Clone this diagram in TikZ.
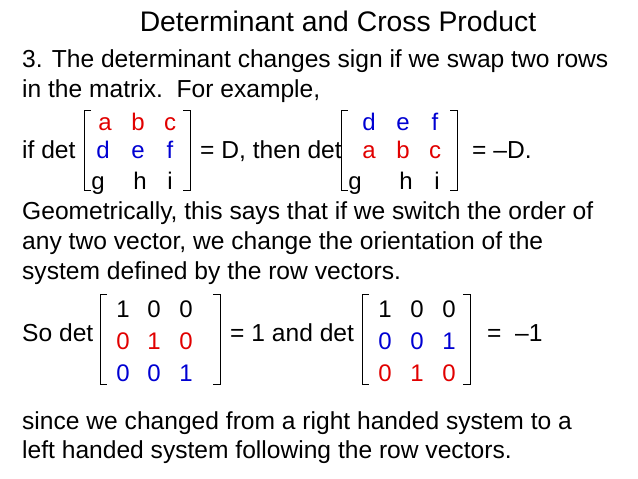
\documentclass[tikz,border=0pt]{standalone}
\usepackage{fontspec}
\setmainfont{Liberation Sans}
\definecolor{rd}{RGB}{225,0,0}
\definecolor{bl}{RGB}{0,0,210}
\begin{document}
\begin{tikzpicture}[x=1pt,y=-1pt,
  txt/.style={anchor=base west,inner sep=0pt,font=\fontsize{24.6}{28}\selectfont},
  ent/.style={anchor=base,inner sep=0pt,font=\fontsize{24}{28}\selectfont},
  brk/.style={line width=0.8pt}]
\useasboundingbox (0,0) rectangle (638,479);
\node[anchor=base,inner sep=0pt,font=\fontsize{28.3}{32}\selectfont] (title) at (338,31) {Determinant and Cross Product};
\node[txt] (l1) at (22,67) {3. The determinant changes sign if we swap two rows};
\node[txt] (l2) at (22,97) {in the matrix.\ \ For example,};
% matrix 1
\node[txt] (ifdet) at (22,158) {if det};
\draw[brk] (91,110) -- (84,110) -- (84,190) -- (91,190);
\draw[brk] (183,110) -- (190,110) -- (190,190) -- (183,190);
\node[ent,rd] (m1a) at (105,130) {a}; \node[ent,rd] (m1b) at (138,130) {b}; \node[ent,rd] (m1c) at (170,130) {c};
\node[ent,bl] (m1d) at (103,158) {d}; \node[ent,bl] (m1e) at (138,158) {e}; \node[ent,bl] (m1f) at (170,158) {f};
\node[ent] (m1g) at (98,189) {g}; \node[ent] (m1h) at (140,189) {h}; \node[ent] (m1i) at (170,189) {i};
\node[txt] (eqD) at (200,158) {= D, then det};
\draw[brk] (348,110) -- (341,110) -- (341,190) -- (348,190);
\draw[brk] (450,110) -- (457,110) -- (457,190) -- (450,190);
\node[ent,bl] (m2d) at (369,130) {d}; \node[ent,bl] (m2e) at (403,130) {e}; \node[ent,bl] (m2f) at (435,130) {f};
\node[ent,rd] (m2a) at (369,158) {a}; \node[ent,rd] (m2b) at (403,158) {b}; \node[ent,rd] (m2c) at (435,158) {c};
\node[ent] (m2g) at (355,189) {g}; \node[ent] (m2h) at (406,189) {h}; \node[ent] (m2i) at (437,189) {i};
\node[txt] (eqmD) at (472,158) {= --D.};
\node[txt] (g1) at (22,219) {Geometrically, this says that if we switch the order of};
\node[txt] (g2) at (22,249) {any two vector, we change the orientation of the};
\node[txt] (g3) at (22,279) {system defined by the row vectors.};
% matrix 3
\node[txt] (sodet) at (22,341) {So det};
\draw[brk] (107,294) -- (100,294) -- (100,384) -- (107,384);
\draw[brk] (213,294) -- (220,294) -- (220,384) -- (213,384);
\node[ent] at (123,317) {1}; \node[ent] at (154,317) {0}; \node[ent] at (186,317) {0};
\node[ent,rd] at (123,349) {0}; \node[ent,rd] at (154,349) {1}; \node[ent,rd] at (186,349) {0};
\node[ent,bl] at (123,381) {0}; \node[ent,bl] at (154,381) {0}; \node[ent,bl] at (186,381) {1};
\node[txt] (eq1) at (230,341) {= 1 and det};
\draw[brk] (369,294) -- (362,294) -- (362,384) -- (369,384);
\draw[brk] (463,294) -- (470,294) -- (470,384) -- (463,384);
\node[ent] at (385,317) {1}; \node[ent] at (417,317) {0}; \node[ent] at (449,317) {0};
\node[ent,bl] at (385,349) {0}; \node[ent,bl] at (417,349) {0}; \node[ent,bl] at (449,349) {1};
\node[ent,rd] at (385,381) {0}; \node[ent,rd] at (417,381) {1}; \node[ent,rd] at (449,381) {0};
\node[txt] (eqm1) at (487,341) {= \ --1};
\node[txt] (s1) at (22,429) {since we changed from a right handed system to a};
\node[txt] (s2) at (22,458) {left handed system following the row vectors.};
\end{tikzpicture}
\end{document}
